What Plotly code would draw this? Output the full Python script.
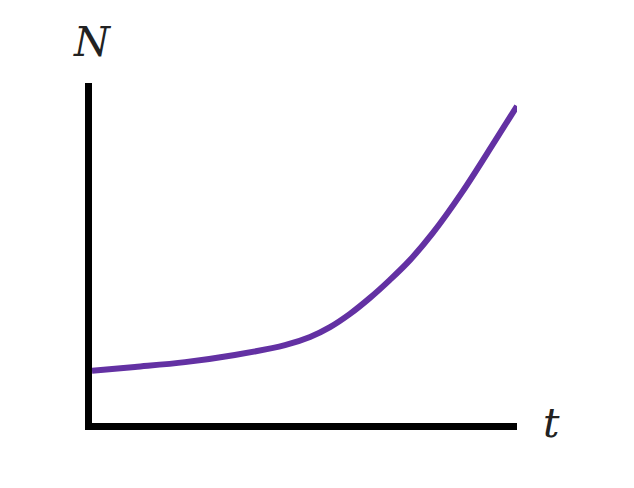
import plotly.graph_objects as go

# curve (t and N in arbitrary units, axes run 0..10)
t_vals = [0.0, 1.01, 2.19, 3.36, 4.54, 5.13, 5.60, 6.07, 6.54, 7.01, 7.48, 8.02, 8.71, 9.48, 10.0]
n_vals = [1.54, 1.65, 1.79, 2.00, 2.29, 2.53, 2.82, 3.21, 3.68, 4.21, 4.79, 5.59, 6.79, 8.29, 9.32]

curve_color = "#6331a3"
axis_color = "#000000"
label_font = dict(family="DejaVu Serif", size=41, color="#222222")

fig = go.Figure()
fig.add_trace(go.Scatter(
    x=t_vals, y=n_vals, mode="lines",
    line=dict(color=curve_color, width=6, shape="spline", smoothing=1),
    hoverinfo="skip", showlegend=False,
))

fig.update_xaxes(range=[0, 10], showline=True, linewidth=7, linecolor=axis_color,
                 showgrid=False, zeroline=False, showticklabels=False, ticks="")
fig.update_yaxes(range=[0, 10], showline=True, linewidth=7, linecolor=axis_color,
                 showgrid=False, zeroline=False, showticklabels=False, ticks="")

# axis names
fig.add_annotation(text="<i>N</i>", xref="paper", yref="paper", x=0.0, y=1.12,
                   showarrow=False, font=label_font, xanchor="center", yanchor="middle")
fig.add_annotation(text="<i>t</i>", xref="paper", yref="paper", x=1.08, y=0.0,
                   showarrow=False, font=label_font, xanchor="center", yanchor="middle")

fig.update_layout(
    width=634, height=488,
    margin=dict(l=84, r=125, t=75, b=73),
    paper_bgcolor="white", plot_bgcolor="white",
)

fig.write_html("out.html")
